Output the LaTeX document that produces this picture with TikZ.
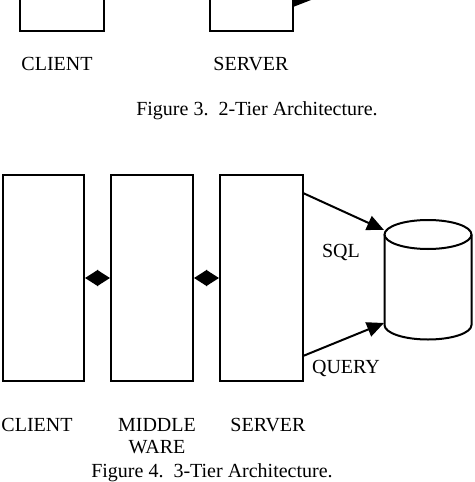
\documentclass[tikz,border=0pt]{standalone}
\usepackage{fontspec}
\setmainfont{Liberation Serif}
\usetikzlibrary{arrows.meta}
\begin{document}
\begin{tikzpicture}[x=1pt,y=-1pt,
  box/.style={draw,line width=2pt,minimum width=#1,inner sep=0pt},
  lbl/.style={font=\fontsize{20}{24}\selectfont,anchor=base,inner sep=0pt},
  conn/.style={line width=2pt,-{Triangle[length=17pt,width=15pt]}},
  dia/.style={line width=2pt,{Triangle[length=13pt,width=16pt]}-{Triangle[length=13pt,width=16pt]}}]
\useasboundingbox (0,0) rectangle (474,482);
\clip (0,0) rectangle (474,482);
% Figure 3
\node[box=84pt,minimum height=100pt] (c3) at (62,-19) {};
\node[box=83pt,minimum height=100pt] (s3) at (251.5,-19) {};
\coordinate (t3a) at (293,7);
\coordinate (t3b) at (311,0);
\fill (t3a) -- (t3b) -- (311,-3) -- (293,-3) -- cycle;
\node[lbl] (c3l) at (57,70) {CLIENT};
\node[lbl] (s3l) at (251,70) {SERVER};
\node[lbl] (cap3) at (257,115) {Figure 3.\ \ 2-Tier Architecture.};
% Figure 4
\node[box=81pt,minimum height=206pt] (c4) at (43.5,278) {};
\node[box=82pt,minimum height=206pt] (m4) at (152,278) {};
\node[box=83pt,minimum height=206pt] (s4) at (261.5,278) {};
\draw[dia] (c4.east) -- (m4.west);
\draw[dia] (m4.east) -- (s4.west);
% database cylinder
\draw[line width=2pt,fill=white] (384.5,234.5) -- (384.5,325) arc[start angle=180,end angle=360,x radius=43.5,y radius=-14.5] -- (471.5,234.5);
\draw[line width=2pt] (428,234.5) ellipse[x radius=43.5,y radius=14.5];
\coordinate (s4a) at (303,193);
\coordinate (s4b) at (303,356);
\coordinate (dbA) at (384,230);
\coordinate (dbB) at (384,323);
\draw[conn] (s4a) -- (dbA);
\draw[conn] (s4b) -- (dbB);
\node[lbl] (sql) at (341,257) {SQL};
\node[lbl] (qry) at (346,373) {QUERY};
\node[lbl] (c4l) at (37,431) {CLIENT};
\node[lbl] (m4l) at (157,431) {MIDDLE};
\node[lbl] (w4l) at (157,453) {WARE};
\node[lbl] (s4l) at (268,431) {SERVER};
\node[lbl] (cap4) at (212,477) {Figure 4.\ \ 3-Tier Architecture.};
\end{tikzpicture}
\end{document}
